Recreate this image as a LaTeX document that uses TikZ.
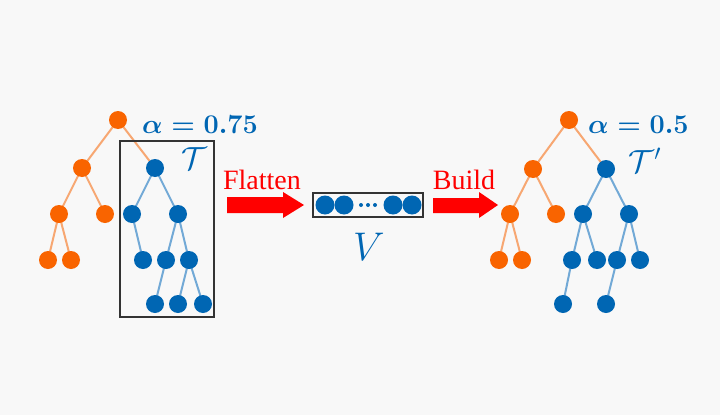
\documentclass[tikz,border=0pt]{standalone}
\usepackage{fix-cm}
\usepackage{fontspec}
\setmainfont{Liberation Serif}
\usepackage{amsmath}
\begin{document}
\begin{tikzpicture}[x=1pt,y=-1pt,
  on/.style={circle,fill=orangeN,inner sep=0pt,minimum size=18pt},
  bn/.style={circle,fill=blueN,inner sep=0pt,minimum size=18pt},
  oe/.style={draw=orangeE,line width=2pt},
  be/.style={draw=blueE,line width=2pt},
  boxs/.style={draw=boxC,line width=2pt},
  redtxt/.style={text=red,font=\fontsize{28}{30}\selectfont},
  alab/.style={text=blueN,font=\fontsize{27}{29}\selectfont\boldmath},
  tlab/.style={text=blueN,font=\fontsize{32}{34}\selectfont}
]
\definecolor{orangeN}{HTML}{F96400}
\definecolor{blueN}{HTML}{0066B3}
\definecolor{orangeE}{HTML}{F7A772}
\definecolor{blueE}{HTML}{72A9D6}
\definecolor{boxC}{HTML}{333333}
\definecolor{bgC}{HTML}{F8F8F8}
\fill[bgC] (0,0) rectangle (720,415);
\useasboundingbox (0,0) rectangle (720,415);

% ---------- left tree ----------
\coordinate (lr) at (118,120);
\coordinate (la) at (82,168);
\coordinate (lb) at (155,168);
\coordinate (laa) at (59,214);
\coordinate (lab) at (105,214);
\coordinate (lba) at (132,214);
\coordinate (lbb) at (178,214);
\coordinate (laaa) at (48,260);
\coordinate (laab) at (71,260);
\coordinate (lbaa) at (143,260);
\coordinate (lbba) at (166,260);
\coordinate (lbbb) at (189,260);
\coordinate (lbbaa) at (155,304);
\coordinate (lbbba) at (178,304);
\coordinate (lbbbb) at (203,304);

\draw[oe] (lr) -- (la);
\draw[oe] (lr) -- (lb);
\draw[oe] (la) -- (laa);
\draw[oe] (la) -- (lab);
\draw[oe] (laa) -- (laaa);
\draw[oe] (laa) -- (laab);
\draw[be] (lb) -- (lba);
\draw[be] (lb) -- (lbb);
\draw[be] (lba) -- (lbaa);
\draw[be] (lbb) -- (lbba);
\draw[be] (lbb) -- (lbbb);
\draw[be] (lbba) -- (lbbaa);
\draw[be] (lbbb) -- (lbbba);
\draw[be] (lbbb) -- (lbbbb);

\node[on] (nlr) at (lr) {};
\node[on] (nla) at (la) {};
\node[on] (nlaa) at (laa) {};
\node[on] (nlab) at (lab) {};
\node[on] (nlaaa) at (laaa) {};
\node[on] (nlaab) at (laab) {};
\node[bn] (nlb) at (lb) {};
\node[bn] (nlba) at (lba) {};
\node[bn] (nlbb) at (lbb) {};
\node[bn] (nlbaa) at (lbaa) {};
\node[bn] (nlbba) at (lbba) {};
\node[bn] (nlbbb) at (lbbb) {};
\node[bn] (nlbbaa) at (lbbaa) {};
\node[bn] (nlbbba) at (lbbba) {};
\node[bn] (nlbbbb) at (lbbbb) {};

\draw[boxs] (120,141) rectangle (214,317);
\node[alab,anchor=base west,inner sep=0pt] (al1) at (142,133) {$\alpha = 0.75$};
\node[tlab,inner sep=0pt] (t1) at (194,159) {$\mathcal{T}$};

% ---------- Flatten arrow ----------
\node[redtxt,inner sep=0pt] (flat) at (262,180) {Flatten};
\fill[red] (227,197) -- (283,197) -- (283,192) -- (304,205) -- (283,218) -- (283,213) -- (227,213) -- cycle;

% ---------- vector ----------
\draw[boxs] (313,193) rectangle (423,217);
\node[bn,minimum size=19pt] (v1) at (325,205) {};
\node[bn,minimum size=19pt] (v2) at (344,205) {};
\node[bn,minimum size=19pt] (v3) at (393,205) {};
\node[bn,minimum size=19pt] (v4) at (412,205) {};
\node[circle,fill=blueN,inner sep=0pt,minimum size=4pt] (d1) at (361,205) {};
\node[circle,fill=blueN,inner sep=0pt,minimum size=4pt] (d2) at (368,205) {};
\node[circle,fill=blueN,inner sep=0pt,minimum size=4pt] (d3) at (375,205) {};
\node[text=blueN,font=\fontsize{40}{42}\selectfont,inner sep=0pt] (vlab) at (369,247) {$V$};

% ---------- Build arrow ----------
\node[redtxt,inner sep=0pt] (build) at (464,180) {Build};
\fill[red] (433,198) -- (479,198) -- (479,192) -- (498,205) -- (479,218) -- (479,213) -- (433,213) -- cycle;

% ---------- right tree ----------
\coordinate (rr) at (569,120);
\coordinate (ra) at (533,169);
\coordinate (rb) at (606,169);
\coordinate (raa) at (510,214);
\coordinate (rab) at (556,214);
\coordinate (rba) at (583,214);
\coordinate (rbb) at (629,214);
\coordinate (raaa) at (499,260);
\coordinate (raab) at (522,260);
\coordinate (rbaa) at (572,260);
\coordinate (rbab) at (597,260);
\coordinate (rbba) at (617,260);
\coordinate (rbbb) at (640,260);
\coordinate (rbaaa) at (563,304);
\coordinate (rbbaa) at (606,304);

\draw[oe] (rr) -- (ra);
\draw[oe] (rr) -- (rb);
\draw[oe] (ra) -- (raa);
\draw[oe] (ra) -- (rab);
\draw[oe] (raa) -- (raaa);
\draw[oe] (raa) -- (raab);
\draw[be] (rb) -- (rba);
\draw[be] (rb) -- (rbb);
\draw[be] (rba) -- (rbaa);
\draw[be] (rba) -- (rbab);
\draw[be] (rbb) -- (rbba);
\draw[be] (rbb) -- (rbbb);
\draw[be] (rbaa) -- (rbaaa);
\draw[be] (rbba) -- (rbbaa);

\node[on] (nrr) at (rr) {};
\node[on] (nra) at (ra) {};
\node[on] (nraa) at (raa) {};
\node[on] (nrab) at (rab) {};
\node[on] (nraaa) at (raaa) {};
\node[on] (nraab) at (raab) {};
\node[bn] (nrb) at (rb) {};
\node[bn] (nrba) at (rba) {};
\node[bn] (nrbb) at (rbb) {};
\node[bn] (nrbaa) at (rbaa) {};
\node[bn] (nrbab) at (rbab) {};
\node[bn] (nrbba) at (rbba) {};
\node[bn] (nrbbb) at (rbbb) {};
\node[bn] (nrbaaa) at (rbaaa) {};
\node[bn] (nrbbaa) at (rbbaa) {};

\node[alab,anchor=base west,inner sep=0pt] (al2) at (588,133) {$\alpha = 0.5$};
\node[tlab,inner sep=0pt] (t2) at (645,160) {$\mathcal{T}'$};
\end{tikzpicture}
\end{document}
